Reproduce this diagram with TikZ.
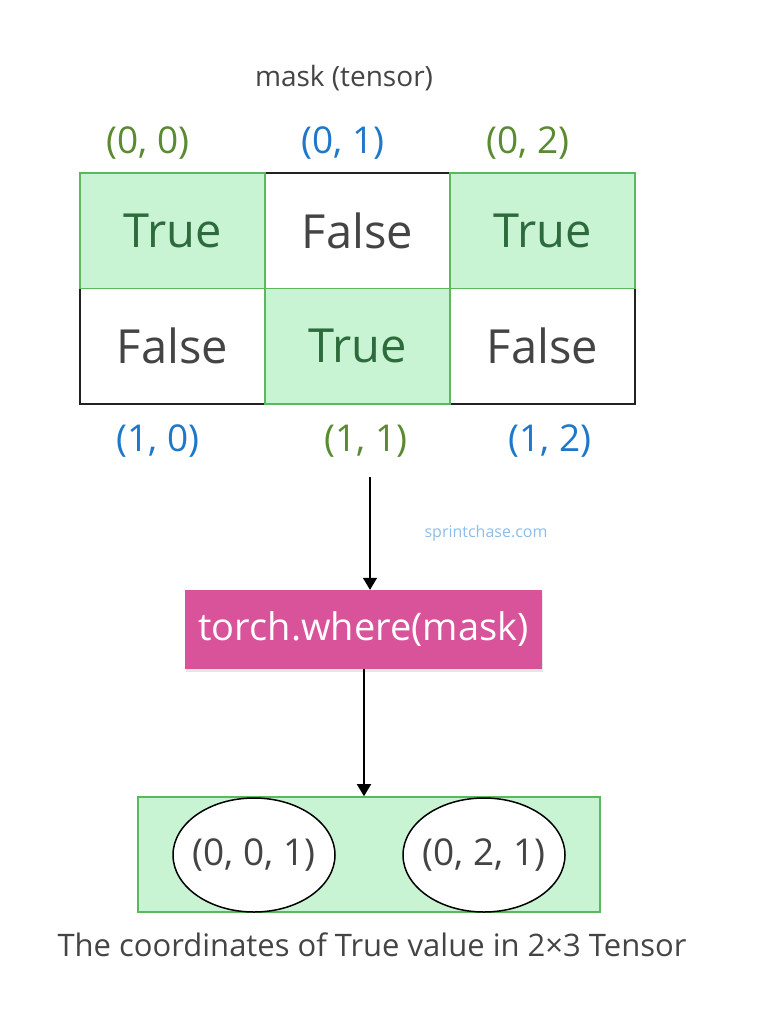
\documentclass[tikz,border=0pt]{standalone}
\usepackage{fontspec}
\setmainfont{Open Sans}
\usetikzlibrary{arrows.meta,shapes.geometric,shadows}
\definecolor{cellgreen}{HTML}{C8F4D4}
\definecolor{cellborder}{HTML}{5CB85C}
\definecolor{truetext}{HTML}{2E6B3C}
\definecolor{falsetext}{HTML}{444444}
\definecolor{lblgreen}{HTML}{5A8A32}
\definecolor{lblblue}{HTML}{1F77C9}
\definecolor{pinkbox}{HTML}{D9539A}
\definecolor{wmblue}{HTML}{8DBDE8}
\definecolor{gridline}{HTML}{222222}
\begin{document}
\begin{tikzpicture}[x=1pt,y=-1pt,
  truecell/.style={draw=cellborder,fill=cellgreen,line width=1.6pt,minimum width=185pt,minimum height=115.5pt,inner sep=0pt,text=truetext,font=\fontsize{47}{56}\selectfont},
  falsecell/.style={draw=gridline,fill=white,line width=1.6pt,minimum width=185pt,minimum height=115.5pt,inner sep=0pt,text=falsetext,font=\fontsize{47}{56}\selectfont},
  idx/.style={font=\fontsize{37}{44}\selectfont,inner sep=0pt},
  arr/.style={draw=black,line width=1.5pt,-{Triangle[length=12pt,width=14pt]}},
  oval/.style={ellipse,draw=black,fill=white,line width=1.5pt,minimum width=162pt,minimum height=114pt,inner sep=0pt},
  ovaltext/.style={inner sep=0pt,text=falsetext,font=\fontsize{37}{44}\selectfont}
]
\useasboundingbox (0,0) rectangle (762,1024);

\node[font=\fontsize{28}{34}\selectfont,text=falsetext] (title) at (344,78) {mask (tensor)};

\node[idx,text=lblgreen] (l00) at (148,143) {(0, 0)};
\node[idx,text=lblblue]  (l01) at (343,143) {(0, 1)};
\node[idx,text=lblgreen] (l02) at (528,143) {(0, 2)};

% white cells first
\node[falsecell] (c01) at (357.5,230.75) {False};
\node[falsecell] (c10) at (172.5,346.25) {False};
\node[falsecell] (c12) at (542.5,346.25) {False};
% green cells on top
\node[truecell] (c00) at (172.5,230.75) {True};
\node[truecell] (c02) at (542.5,230.75) {True};
\node[truecell] (c11) at (357.5,346.25) {True};

\node[idx,text=lblblue]  (l10) at (158,441) {(1, 0)};
\node[idx,text=lblgreen] (l11) at (366,441) {(1, 1)};
\node[idx,text=lblblue]  (l12) at (550,441) {(1, 2)};

\node[font=\fontsize{16}{19}\selectfont,text=wmblue] (wm) at (486,533) {sprintchase.com};

\node[fill=pinkbox,drop shadow={opacity=0.2,shadow xshift=1pt,shadow yshift=-3pt},minimum width=357pt,minimum height=79pt,inner sep=0pt,text=white,font=\fontsize{38}{45}\selectfont] (pink) at (363.5,629.5) {torch.where(mask)};

\node[draw=cellborder,fill=cellgreen,line width=1.6pt,minimum width=462pt,minimum height=115pt,inner sep=0pt] (res) at (369,854.5) {};
\node[oval] (e1) at (254,855) {};
\node[ovaltext] (t1) at (e1.center) {(0, 0, 1)};
\node[oval] (e2) at (484,855) {};
\node[ovaltext] (t2) at (e2.center) {(0, 2, 1)};

\node[font=\fontsize{31}{37}\selectfont,text=falsetext] (cap) at (372,945) {The coordinates of True value in 2×3 Tensor};

\coordinate (s1) at (370,477);
\draw[arr] (s1) -- (s1 |- pink.north);
\coordinate (s2) at (364,669);
\draw[arr] (s2) -- (s2 |- res.north);
\end{tikzpicture}
\end{document}
